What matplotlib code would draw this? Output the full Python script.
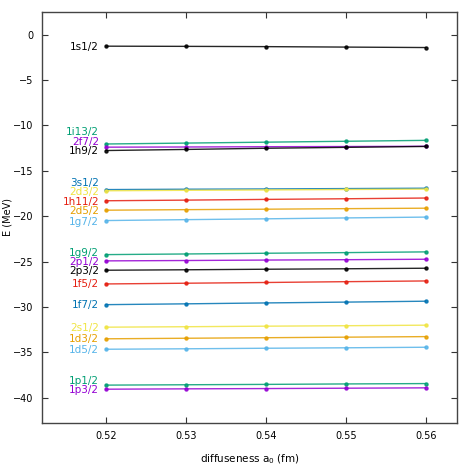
import matplotlib.pyplot as plt

# diffuseness values (fm)
a0 = [0.52, 0.53, 0.54, 0.55, 0.56]

# single-particle levels (MeV)
levels = ['1s1/2', '1i13/2', '2f7/2', '1h9/2', '3s1/2', '2d3/2', '1h11/2', '2d5/2', '1g7/2',
          '1g9/2', '2p1/2', '2p3/2', '1f5/2', '1f7/2', '2s1/2', '1d3/2', '1d5/2', '1p1/2', '1p3/2']
e_1s12 = [-1.28, -1.30, -1.33, -1.38, -1.43]
e_1i132 = [-12.05, -11.95, -11.85, -11.75, -11.65]
e_2f72 = [-12.40, -12.38, -12.35, -12.33, -12.30]
e_1h92 = [-12.77, -12.65, -12.52, -12.42, -12.32]
e_3s12 = [-17.07, -17.03, -17.00, -16.96, -16.92]
e_2d32 = [-17.20, -17.15, -17.11, -17.06, -17.02]
e_1h112 = [-18.30, -18.23, -18.15, -18.08, -18.00]
e_2d52 = [-19.34, -19.28, -19.23, -19.17, -19.12]
e_1g72 = [-20.48, -20.38, -20.29, -20.19, -20.10]
e_1g92 = [-24.23, -24.16, -24.08, -24.01, -23.93]
e_2p12 = [-24.92, -24.88, -24.83, -24.79, -24.74]
e_2p32 = [-25.95, -25.90, -25.84, -25.79, -25.73]
e_1f52 = [-27.46, -27.38, -27.30, -27.21, -27.13]
e_1f72 = [-29.74, -29.65, -29.55, -29.46, -29.36]
e_2s12 = [-32.22, -32.17, -32.11, -32.06, -32.00]
e_1d32 = [-33.50, -33.44, -33.38, -33.32, -33.26]
e_1d52 = [-34.65, -34.60, -34.54, -34.49, -34.43]
e_1p12 = [-38.60, -38.56, -38.52, -38.47, -38.43]
e_1p32 = [-39.05, -39.01, -38.98, -38.94, -38.90]

# where each label sits (MeV), labels are shifted to avoid overlap
label_y = [-1.35, -10.75, -11.78, -12.8, -16.3, -17.32, -18.39, -19.4, -20.6,
           -24.07, -25.06, -26.02, -27.49, -29.74, -32.26, -33.52, -34.7, -38.17, -39.16]

purple = '#9400d3'
green = '#009e73'
lblue = '#56b4e9'
orange = '#e69f00'
yellow = '#f0e442'
dblue = '#0072b2'
red = '#e51e10'
black = '#000000'
colors = [black, green, purple, black, dblue, yellow, red, orange, lblue,
          green, purple, black, red, dblue, yellow, orange, lblue, green, purple]

energies = [e_1s12, e_1i132, e_2f72, e_1h92, e_3s12, e_2d32, e_1h112, e_2d52, e_1g72,
            e_1g92, e_2p12, e_2p32, e_1f52, e_1f72, e_2s12, e_1d32, e_1d52, e_1p12, e_1p32]

fig, ax = plt.subplots(figsize=(4.74, 4.74), dpi=100)
fig.subplots_adjust(left=0.089, right=0.964, top=0.975, bottom=0.108)

for name, e, c, ly in zip(levels, energies, colors, label_y):
    ax.plot(a0, e, color=c, lw=1.0, marker='o', ms=2.2, alpha=0.85)
    ax.annotate(name, xy=(a0[0], ly), xytext=(-5, 0), textcoords='offset points',
                ha='right', va='center', color=c, fontsize=7.5)

ax.set_xlim(0.512, 0.5639)
ax.set_ylim(-42.75, 2.5)
ax.set_xticks(a0)
ax.set_xticklabels(['0.52', '0.53', '0.54', '0.55', '0.56'])
ax.set_yticks([0, -5, -10, -15, -20, -25, -30, -35, -40])
ax.tick_params(direction='in', top=True, right=True, labelsize=7, length=4, width=0.8,
               color='#333333', pad=6)
for s in ax.spines.values():
    s.set_color('#444444')
    s.set_linewidth(1.0)

ax.set_xlabel('diffuseness a$_0$ (fm)', fontsize=7.5, labelpad=8)
ax.set_ylabel('E (MeV)', fontsize=7)
ax.yaxis.set_label_coords(-0.072, 0.5)

plt.savefig('out.png', dpi=100)
